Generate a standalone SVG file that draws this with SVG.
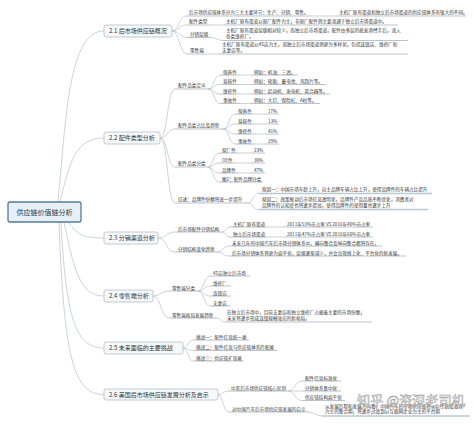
<svg xmlns="http://www.w3.org/2000/svg" width="474" height="424" viewBox="0 0 474 424">
<style>
.t{font-family:"Noto Sans CJK SC","Noto Sans",sans-serif;font-size:4.6px;fill:#333}
.b{font-size:6px;fill:#333}
.r{font-size:7px;fill:#2b3a48}
.u{stroke:#8e9ca8;stroke-width:0.6;fill:none}
.uw{stroke:#b9cad4;stroke-width:1.3;fill:none}
.c{stroke:#b8c0c8;stroke-width:0.7;fill:none}
.box{fill:#f6f8fa;stroke:#b3bfca;stroke-width:0.8}
.root{fill:#e7f0f8;stroke:#557a98;stroke-width:1.3}
.wm{font-family:"Noto Sans CJK SC",sans-serif;font-size:13px;fill:#ffffff;fill-opacity:0.55;stroke:#9a9a9a;stroke-width:0.5}
</style>
<rect width="474" height="424" fill="#ffffff"/>

<g id="connectors">
<path class="c" d="M58,202 C66,120 68,31 104,31"/>
<path class="c" d="M60,202 C70,160 76,138 104,138"/>
<path class="c" d="M68,222 C78,236 86,238 104,238"/>
<path class="c" d="M64,222 C74,270 80,296 104,296"/>
<path class="c" d="M61,222 C66,320 76,348 104,348"/>
<path class="c" d="M59,222 C64,360 74,394.5 104,394.5"/>
<!-- 2.1 -->
<path class="c" d="M172,31 C179,31 179,16 186,16"/>
<path class="c" d="M172,31 C179,31 179,25 186,25"/>
<path class="c" d="M172,31 C179,31 180,37.5 187,37.5"/>
<path class="c" d="M172,31 C179,31 180,54 187,54"/>
<path class="c" d="M312,16 L336,16"/>
<path class="c" d="M210,25 L223,25"/>
<path class="c" d="M211,37.5 C216,37.5 218,40.5 223,40.5"/>
<path class="c" d="M205,54 L219,54"/>
<!-- 2.2 -->
<path class="c" d="M160,138 C168,138 167,89 175,89"/>
<path class="c" d="M160,138 C168,138 167,129 175,129"/>
<path class="c" d="M160,138 C168,138 167,167 175,167"/>
<path class="c" d="M160,138 C168,138 167,203 175,203"/>
<path class="c" d="M208,89 C214,89 214,75 220,75"/>
<path class="c" d="M208,89 C214,89 214,84.5 220,84.5"/>
<path class="c" d="M208,89 C214,89 214,94 220,94"/>
<path class="c" d="M208,89 C214,89 214,103.5 220,103.5"/>
<path class="c" d="M240,75 L251,75 M240,84.5 L251,84.5 M240,94 L251,94 M240,103.5 L251,103.5"/>
<path class="c" d="M223,129 C229,129 229,114 235,114"/>
<path class="c" d="M223,129 C229,129 229,124 235,124"/>
<path class="c" d="M223,129 C229,129 229,134 235,134"/>
<path class="c" d="M223,129 C229,129 229,144 235,144"/>
<path class="c" d="M254,114 L265,114 M254,124 L265,124 M254,134 L265,134 M254,144 L265,144"/>
<path class="c" d="M208,167 C213,167 213,153 219,153"/>
<path class="c" d="M208,167 C213,167 213,163 219,163"/>
<path class="c" d="M208,167 C213,167 213,173 219,173"/>
<path class="c" d="M208,167 C213,167 213,182 219,182"/>
<path class="c" d="M239,153 L251,153 M236,163 L251,163 M239,173 L251,173"/>
<path class="c" d="M248,203 C253,203 253,193 259,193"/>
<path class="c" d="M248,203 C253,203 253,209.5 259,209.5"/>
<!-- 2.3 -->
<path class="c" d="M158,238 C167,238 166,232 175,232"/>
<path class="c" d="M158,238 C167,238 166,252 175,252"/>
<path class="c" d="M222,232 C226,232 226,227 230,227"/>
<path class="c" d="M222,232 C226,232 226,237 230,237"/>
<path class="c" d="M267,227 L284,227 M267,237 L284,237"/>
<path class="c" d="M217,252 C223,252 223,246 229,246"/>
<path class="c" d="M217,252 C223,252 223,256 229,256"/>
<!-- 2.4 -->
<path class="c" d="M153,296 C161,296 161,291 169,291"/>
<path class="c" d="M153,296 C161,296 161,318 169,318"/>
<path class="c" d="M198,291 C204,291 204,276 210,276"/>
<path class="c" d="M198,291 C204,291 204,286 210,286"/>
<path class="c" d="M198,291 C204,291 204,296 210,296"/>
<path class="c" d="M198,291 C204,291 204,306 210,306"/>
<path class="c" d="M217,318 C220,318 221,322 224,322"/>
<!-- 2.5 -->
<path class="c" d="M183,348 C188,348 188,340 193,340"/>
<path class="c" d="M183,348 C188,348 188,350.5 193,350.5"/>
<path class="c" d="M183,348 C188,348 188,361 193,361"/>
<!-- 2.6 -->
<path class="c" d="M218,394.5 C223,394.5 223,391 228,391"/>
<path class="c" d="M218,394.5 C223,394.5 223,412 229,412"/>
<path class="c" d="M288,391 C295,391 295,381 302,381"/>
<path class="c" d="M288,391 L302,391"/>
<path class="c" d="M288,391 C295,391 295,400.5 302,400.5"/>
<path class="c" d="M309,412 C314,412 316,416 322,416"/>
</g>

<g id="root"><rect class="root" x="8" y="202" width="73" height="20" rx="2"/><text class="t r" x="44.5" y="214.6" text-anchor="middle">供应链价值链分析</text></g>

<g id="n21"><rect class="box" x="104" y="25" width="68" height="12" rx="2"/><text class="t b" x="109" y="33.2">2.1 后市场供应链概况</text></g>
<g id="n22"><rect class="box" x="104" y="132" width="56" height="12" rx="2"/><text class="t b" x="109" y="140.2">2.2 配件类型分析</text></g>
<g id="n23"><rect class="box" x="104" y="232" width="54" height="12" rx="2"/><text class="t b" x="109" y="240.2">2.3 分销渠道分析</text></g>
<g id="n24"><rect class="box" x="104" y="290" width="49" height="12" rx="2"/><text class="t b" x="109" y="298.2">2.4 零售端分析</text></g>
<g id="n25"><rect class="box" x="104" y="342" width="79" height="12" rx="2"/><text class="t b" x="109" y="350.2">2.5 未来面临的主要挑战</text></g>
<g id="n26"><rect class="box" x="104" y="389" width="114" height="11" rx="2"/><text class="t b" x="109" y="396.7">2.6 美国后市场供应链发展分析及启示</text></g>

<!-- 2.1 children -->
<g id="a1"><text class="t" x="189" y="13.6">后市场供应链体系分为三大主要环节：生产、分销、零售。</text><path class="u" d="M186,16 H312"/></g>
<g id="a1c"><text class="t" x="339" y="13.6">主机厂原有渠道和独立后市场渠道的供应链体系有很大的不同。</text><path class="u" d="M336,16 H466"/></g>
<g id="a2"><text class="t" x="189" y="23">配件类型</text><path class="u" d="M186,25 H210"/></g>
<g id="a2c"><text class="t" x="226" y="23">主机厂原有渠道以原厂配件为主，非原厂配件则主要流通于独立后市场渠道中。</text><path class="u" d="M223,25 H398"/></g>
<g id="a3"><text class="t" x="190" y="35.5">分销层级</text><path class="u" d="M187,37.5 H211"/></g>
<g id="a3c"><text class="t" x="226" y="32.3">主机厂原有渠道层级相对较少，而独立后市场渠道，配件由多层的批发商经手后，流入</text><text class="t" x="226" y="38">各类维修厂。</text><path class="u" d="M223,40.5 H408"/></g>
<g id="a4"><text class="t" x="190" y="51.8">零售端</text><path class="u" d="M187,54 H205"/></g>
<g id="a4c"><text class="t" x="222" y="46.3">主机厂原有渠道以4S店为主，而独立后市场渠道则更为多样化，包括连锁店、维修厂和</text><text class="t" x="222" y="51.8">夫妻店等。</text><path class="u" d="M219,54 H408"/></g>

<!-- 2.2 children -->
<g id="b1"><text class="t" x="178" y="86.6">配件品类定义</text><path class="u" d="M175,89 H208"/></g>
<g id="b11"><text class="t" x="223" y="73.6">保养件</text><path class="u" d="M220,75 H240"/></g>
<g id="b12"><text class="t" x="223" y="83.1">易损件</text><path class="u" d="M220,84.5 H240"/></g>
<g id="b13"><text class="t" x="223" y="92.6">维修件</text><path class="u" d="M220,94 H240"/></g>
<g id="b14"><text class="t" x="223" y="102.1">事故件</text><path class="u" d="M220,103.5 H240"/></g>
<g id="b11c"><text class="t" x="254" y="73.6">例如：机油、三滤。</text><path class="u" d="M251,75 H298"/></g>
<g id="b12c"><text class="t" x="254" y="83.1">例如：轮胎、蓄电池、雨刮片等。</text><path class="u" d="M251,84.5 H326"/></g>
<g id="b13c"><text class="t" x="254" y="92.6">例如：起动机、发电机、离合器等。</text><path class="u" d="M251,94 H330"/></g>
<g id="b14c"><text class="t" x="254" y="102.1">例如：大灯、保险杠、A柱等。</text><path class="u" d="M251,103.5 H320"/></g>

<g id="b2"><text class="t" x="178" y="126.6">配件品类占比及趋势</text><path class="u" d="M175,129 H223"/></g>
<g id="b21"><text class="t" x="238" y="112.6">保养件</text><path class="u" d="M235,114 H254"/></g>
<g id="b22"><text class="t" x="238" y="122.6">易损件</text><path class="u" d="M235,124 H254"/></g>
<g id="b23"><text class="t" x="238" y="132.6">维修件</text><path class="u" d="M235,134 H254"/></g>
<g id="b24"><text class="t" x="238" y="142.6">事故件</text><path class="u" d="M235,144 H254"/></g>
<g id="b21c"><text class="t" x="268" y="112.6">17%</text><path class="u" d="M265,114 H279"/></g>
<g id="b22c"><text class="t" x="268" y="122.6">13%</text><path class="u" d="M265,124 H279"/></g>
<g id="b23c"><text class="t" x="268" y="132.6">41%</text><path class="u" d="M265,134 H279"/></g>
<g id="b24c"><text class="t" x="268" y="142.6">29%</text><path class="u" d="M265,144 H279"/></g>

<g id="b3"><text class="t" x="178" y="164.6">配件品类分类</text><path class="u" d="M175,167 H208"/></g>
<g id="b31"><text class="t" x="222" y="151.6">原厂件</text><path class="u" d="M219,153 H239"/></g>
<g id="b32"><text class="t" x="222" y="161.6">OE件</text><path class="u" d="M219,163 H236"/></g>
<g id="b33"><text class="t" x="222" y="171.6">品牌件</text><path class="u" d="M219,173 H239"/></g>
<g id="b34"><text class="t" x="222" y="180.6">图2：配件品牌分类</text><path class="u" d="M219,182 H263"/></g>
<g id="b31c"><text class="t" x="254" y="151.6">23%</text><path class="u" d="M251,153 H265"/></g>
<g id="b32c"><text class="t" x="254" y="161.6">30%</text><path class="u" d="M251,163 H265"/></g>
<g id="b33c"><text class="t" x="254" y="171.6">47%</text><path class="u" d="M251,173 H265"/></g>

<g id="b4"><text class="t" x="178" y="200.6">综述：品牌件份额将进一步提升</text><path class="u" d="M175,203 H248"/></g>
<g id="b41"><text class="t" x="262" y="191.4">原因一：中国市场车龄上升，自主品牌车辆占比上升，使得品牌件的车辆占比提升</text><path class="uw" d="M259,193.5 H432"/></g>
<g id="b42"><text class="t" x="262" y="200.6">原因二：政策推动后市场信息透明化，品牌件产品品质不断优化，消费者对</text><text class="t" x="262" y="207">品牌件的认知度也将逐步提高，使得品牌件的使用量也逐步上升</text><path class="uw" d="M259,209.5 H428"/></g>

<!-- 2.3 children -->
<g id="c1"><text class="t" x="178" y="230.6">后市场配件分销结构</text><path class="u" d="M175,232 H222"/></g>
<g id="c11"><text class="t" x="233" y="225.6">主机厂原有渠道</text><path class="u" d="M230,227 H267"/></g>
<g id="c12"><text class="t" x="233" y="235.6">独立后市场渠道</text><path class="u" d="M230,237 H267"/></g>
<g id="c11c"><text class="t" x="287" y="225.6">2011年53%市占率 VS 2016年40%市占率</text><path class="u" d="M284,227 H373"/></g>
<g id="c12c"><text class="t" x="287" y="235.6">2011年47%市占率 VS 2016年60%市占率</text><path class="u" d="M284,237 H373"/></g>
<g id="c2"><text class="t" x="178" y="250.6">分销结构变化趋势</text><path class="u" d="M175,252 H217"/></g>
<g id="c21"><text class="t" x="232" y="244.6">未来几年的中国汽车后市场分销体系中，横向整合及纵向整合都将存在。</text><path class="u" d="M229,246 H382"/></g>
<g id="c22"><text class="t" x="232" y="254.6">后市场分销体系将更为扁平化，层级逐渐减少，并会出现线上化、平台化的新发展。</text><path class="u" d="M229,256 H406"/></g>

<!-- 2.4 children -->
<g id="d1"><text class="t" x="172" y="289.6">零售端分类</text><path class="u" d="M169,291 H198"/></g>
<g id="d11"><text class="t" x="213" y="274.6">4S店独立后市场</text><path class="u" d="M210,276 H250"/></g>
<g id="d12"><text class="t" x="213" y="284.6">维修厂</text><path class="u" d="M210,286 H231"/></g>
<g id="d13"><text class="t" x="213" y="294.6">连锁店</text><path class="u" d="M210,296 H231"/></g>
<g id="d14"><text class="t" x="213" y="304.6">夫妻店</text><path class="u" d="M210,306 H231"/></g>
<g id="d2"><text class="t" x="172" y="316.6">零售端格局发展趋势</text><path class="u" d="M169,318 H217"/></g>
<g id="d21"><text class="t" x="227" y="314">在独立后市场中，目前夫妻店和独立维修厂占据着主要的市场份额，</text><text class="t" x="227" y="319.6">未来将逐步形成连锁规模效应的新格局。</text><path class="u" d="M224,322 H372"/></g>

<!-- 2.5 children -->
<g id="e1"><text class="t" x="196" y="338.6">挑战一：配件信息统一难</text><path class="u" d="M193,340 H249"/></g>
<g id="e2"><text class="t" x="196" y="349.1">挑战二：配件信息与供应链体系匹配难</text><path class="u" d="M193,350.5 H277"/></g>
<g id="e3"><text class="t" x="196" y="359.6">挑战三：供应链扩张难</text><path class="u" d="M193,361 H244"/></g>

<!-- 2.6 children -->
<g id="f1"><text class="t" x="231" y="389.6">中美后市场供应链核心区别</text><path class="u" d="M228,391 H288"/></g>
<g id="f11"><text class="t" x="305" y="379.6">配件信息标准化</text><path class="u" d="M302,381 H341"/></g>
<g id="f12"><text class="t" x="305" y="389.6">分销体系集中化</text><path class="u" d="M302,391 H341"/></g>
<g id="f13"><text class="t" x="305" y="399.1">供应链结构扁平化</text><path class="u" d="M302,400.5 H345"/></g>
<g id="f2"><text class="t" x="232" y="410.6">对中国汽车后市场供应链发展的启示</text><path class="u" d="M229,412 H309"/></g>
<g id="f21"><text class="t" x="325" y="407.6">从发展历程和发展方向看，中国汽车后市场供应链将从以传统渠道商</text><text class="t" x="325" y="413.4">为主的整合期，将逐步过渡到以互联网企业为主的平台期</text><path class="uw" d="M322,416 H470"/></g>

<text class="wm" x="357" y="405" textLength="108" lengthAdjust="spacingAndGlyphs">知乎 @资深老司机</text>
</svg>
